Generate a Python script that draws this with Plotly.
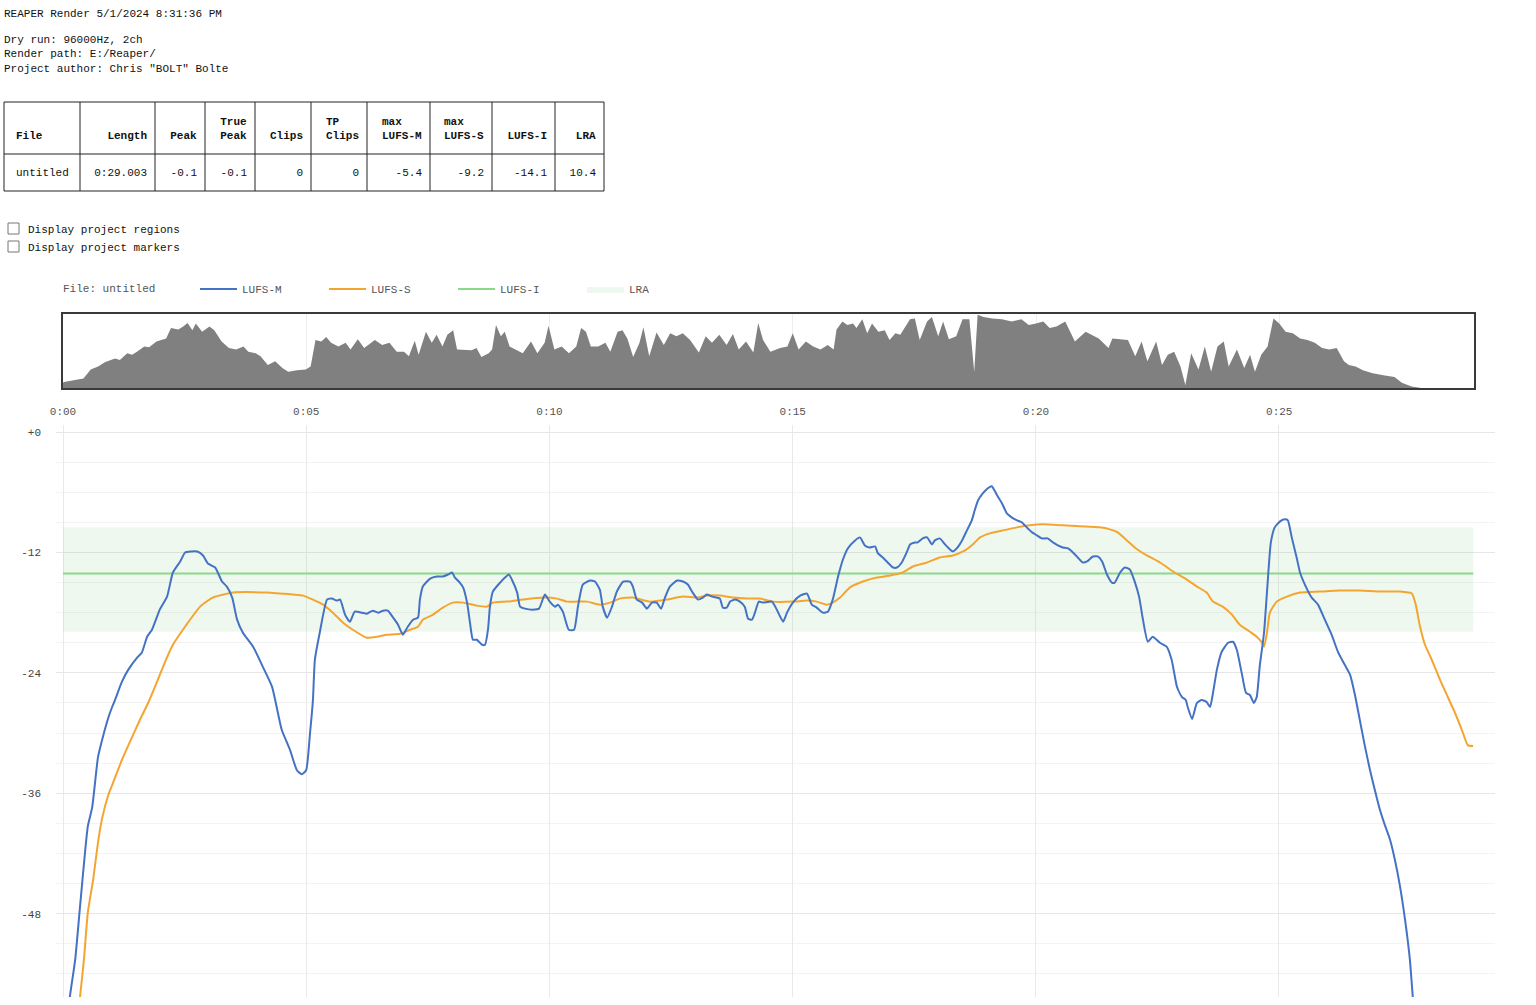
import plotly.graph_objects as go

# ---------------- data ----------------
HEADER_TITLE = "REAPER Render 5/1/2024 8:31:36 PM"
HEADER_LINES = ["Dry run: 96000Hz, 2ch", "Render path: E:/Reaper/", 'Project author: Chris "BOLT" Bolte']

TABLE_COLS = ["File", "Length", "Peak", "True<br>Peak", "Clips", "TP<br>Clips",
              "max<br>LUFS-M", "max<br>LUFS-S", "LUFS-I", "LRA"]
TABLE_ROW = ["untitled", "0:29.003", "-0.1", "-0.1", "0", "0", "-5.4", "-9.2", "-14.1", "10.4"]

CHECKBOXES = ["Display project regions", "Display project markers"]
FILE_LABEL = "File: untitled"

LENGTH_S = 29.003
LUFS_I = -14.1
LRA_LOW = -19.9
LRA_HIGH = -9.5

X_TICKS = [0, 5, 10, 15, 20, 25]
X_TICK_TEXT = ["0:00", "0:05", "0:10", "0:15", "0:20", "0:25"]
Y_TICKS = [0, -12, -24, -36, -48]
Y_TICK_TEXT = ["+0", "-12", "-24", "-36", "-48"]

# waveform envelope (relative height 0..1)
WAVE_T = [0.0, 0.02, 0.42, 0.57, 0.72, 0.87, 1.07, 1.17, 1.32, 1.42, 1.52, 1.67, 1.77, 1.92, 2.02, 2.12,
          2.22, 2.37, 2.47, 2.56, 2.66, 2.73, 2.86, 3.01, 3.11, 3.26, 3.41, 3.56, 3.71, 3.81, 3.96,
          4.06, 4.21, 4.36, 4.51, 4.63, 4.81, 4.99, 5.09, 5.19, 5.31, 5.41, 5.51, 5.66, 5.81, 5.91,
          6.06, 6.19, 6.41, 6.56, 6.71, 6.86, 7.01, 7.11, 7.23, 7.31, 7.46, 7.58, 7.68, 7.80, 7.90,
          8.02, 8.10, 8.25, 8.40, 8.50, 8.60, 8.75, 8.82, 8.90, 9.00, 9.08, 9.18, 9.30, 9.45, 9.62,
          9.75, 9.90, 9.98, 10.10, 10.25, 10.40, 10.55, 10.65, 10.75, 10.85, 11.00, 11.15, 11.25,
          11.40, 11.50, 11.60, 11.72, 11.85, 11.93, 12.05, 12.20, 12.35, 12.48, 12.61, 12.74, 12.89,
          13.07, 13.21, 13.34, 13.49, 13.64, 13.77, 13.89, 14.04, 14.19, 14.29, 14.39, 14.54, 14.74,
          14.89, 15.00, 15.12, 15.27, 15.42, 15.57, 15.72, 15.84, 15.90, 16.02, 16.12, 16.24, 16.31,
          16.43, 16.53, 16.63, 16.76, 16.89, 16.99, 17.11, 17.21, 17.31, 17.41, 17.51, 17.61, 17.76,
          17.86, 17.99, 18.09, 18.21, 18.36, 18.49, 18.63, 18.73, 18.80, 18.92, 19.10, 19.30, 19.50,
          19.70, 19.85, 20.00, 20.15, 20.28, 20.42, 20.60, 20.80, 21.02, 21.29, 21.49, 21.57, 21.89,
          22.04, 22.17, 22.29, 22.47, 22.59, 22.71, 22.84, 22.97, 23.07, 23.19, 23.34, 23.47, 23.60,
          23.73, 23.86, 23.96, 24.13, 24.28, 24.40, 24.50, 24.63, 24.76, 24.88, 25.00, 25.13, 25.28,
          25.43, 25.58, 25.73, 25.88, 26.03, 26.18, 26.33, 26.43, 26.57, 26.72, 26.92, 27.17, 27.37,
          27.52, 27.72, 27.92, 29.00]
WAVE_H = [0.07, 0.08, 0.13, 0.25, 0.29, 0.35, 0.40, 0.38, 0.47, 0.45, 0.49, 0.56, 0.55, 0.63, 0.65, 0.67,
          0.81, 0.79, 0.83, 0.88, 0.78, 0.87, 0.76, 0.83, 0.78, 0.63, 0.54, 0.52, 0.56, 0.49, 0.47,
          0.43, 0.31, 0.36, 0.27, 0.22, 0.24, 0.25, 0.29, 0.65, 0.63, 0.69, 0.61, 0.56, 0.61, 0.52,
          0.66, 0.54, 0.65, 0.58, 0.61, 0.49, 0.49, 0.43, 0.64, 0.45, 0.76, 0.61, 0.72, 0.56, 0.72,
          0.78, 0.52, 0.52, 0.51, 0.54, 0.42, 0.47, 0.52, 0.85, 0.70, 0.76, 0.56, 0.52, 0.47, 0.63,
          0.47, 0.61, 0.84, 0.52, 0.56, 0.47, 0.56, 0.81, 0.76, 0.56, 0.56, 0.61, 0.49,
          0.76, 0.78, 0.67, 0.42, 0.61, 0.82, 0.43, 0.75, 0.58, 0.74, 0.70, 0.74, 0.65,
          0.48, 0.70, 0.61, 0.72, 0.58, 0.73, 0.52, 0.63, 0.48, 0.88, 0.65, 0.49, 0.54,
          0.56, 0.74, 0.52, 0.63, 0.56, 0.52, 0.58, 0.52, 0.79, 0.90, 0.85, 0.87, 0.81,
          0.93, 0.74, 0.87, 0.76, 0.78, 0.65, 0.74, 0.72, 0.83, 0.93, 0.94, 0.65, 0.90,
          0.96, 0.70, 0.90, 0.66, 0.70, 0.93, 0.93, 0.22, 0.99, 0.96, 0.94, 0.93, 0.90,
          0.93, 0.85, 0.87, 0.90, 0.81, 0.83, 0.90, 0.63, 0.76, 0.67, 0.54, 0.67, 0.65,
          0.43, 0.63, 0.36, 0.63, 0.31, 0.45, 0.49, 0.29, 0.04, 0.47, 0.25, 0.56, 0.22,
          0.56, 0.63, 0.29, 0.52, 0.27, 0.45, 0.22, 0.45, 0.56, 0.94, 0.87, 0.76, 0.74,
          0.67, 0.65, 0.61, 0.54, 0.52, 0.54, 0.36, 0.31, 0.29, 0.24, 0.20, 0.17, 0.15,
          0.07, 0.02, 0.00, 0.00]

# momentary loudness (LUFS-M)
M_T = [0.06, 0.14, 0.25, 0.35, 0.51, 0.60, 0.72, 0.82, 0.93, 1.01, 1.07, 1.21, 1.34, 1.52, 1.62, 1.73,
       1.83, 1.99, 2.14, 2.26, 2.41, 2.51, 2.63, 2.76, 2.88, 2.98, 3.13, 3.27, 3.37, 3.48, 3.58,
       3.70, 3.91, 4.11, 4.30, 4.42, 4.50, 4.67, 4.81, 4.91, 5.00, 5.08, 5.14, 5.18, 5.28, 5.43,
       5.53, 5.63, 5.70, 5.80, 5.90, 6.00, 6.15, 6.25, 6.37, 6.48, 6.58, 6.68, 6.79, 6.89, 6.99,
       7.09, 7.20, 7.30, 7.34, 7.40, 7.55, 7.69, 7.81, 7.92, 8.00, 8.06, 8.16, 8.23, 8.31, 8.37,
       8.43, 8.51, 8.62, 8.68, 8.74, 8.78, 8.84, 8.99, 9.09, 9.17, 9.23, 9.34, 9.40, 9.50, 9.66,
       9.79, 9.91, 10.01, 10.12, 10.18, 10.28, 10.40, 10.51, 10.59, 10.69, 10.84, 10.94, 11.04,
       11.10, 11.19, 11.29, 11.39, 11.52, 11.66, 11.72, 11.80, 11.91, 12.01, 12.11, 12.21, 12.30,
       12.38, 12.48, 12.63, 12.75, 12.85, 12.95, 13.06, 13.16, 13.24, 13.35, 13.45, 13.51, 13.57,
       13.65, 13.72, 13.82, 13.92, 14.02, 14.09, 14.17, 14.23, 14.31, 14.39, 14.58, 14.68, 14.81,
       14.89, 15.01, 15.16, 15.30, 15.40, 15.50, 15.63, 15.73, 15.83, 15.94, 16.04, 16.14, 16.29,
       16.39, 16.49, 16.59, 16.70, 16.76, 16.86, 16.96, 17.07, 17.15, 17.25, 17.36, 17.42, 17.52,
       17.58, 17.68, 17.77, 17.87, 17.93, 18.03, 18.14, 18.24, 18.30, 18.38, 18.49, 18.59, 18.69,
       18.75, 18.82, 18.92, 19.02, 19.10, 19.21, 19.31, 19.41, 19.51, 19.62, 19.72, 19.82, 19.93,
       20.03, 20.13, 20.25, 20.36, 20.46, 20.56, 20.67, 20.77, 20.87, 20.97, 21.06, 21.18, 21.28,
       21.37, 21.47, 21.57, 21.63, 21.74, 21.84, 21.94, 22.04, 22.13, 22.21, 22.31, 22.41, 22.56,
       22.70, 22.80, 22.91, 23.01, 23.09, 23.13, 23.22, 23.32, 23.42, 23.52, 23.59, 23.65, 23.73,
       23.83, 23.96, 24.06, 24.14, 24.24, 24.33, 24.41, 24.49, 24.55, 24.61, 24.70, 24.76, 24.84,
       24.92, 25.03, 25.13, 25.19, 25.27, 25.38, 25.44, 25.54, 25.68, 25.81, 25.95, 26.09, 26.22,
       26.36, 26.47, 26.57, 26.67, 26.77, 26.88, 26.98, 27.08, 27.18, 27.29, 27.39, 27.49, 27.60,
       27.70, 27.76, 27.86, 28.00]
M_V = [-60.0, -56.3, -52.6, -47.3, -39.3, -37.4, -32.4, -30.4, -28.5, -27.4, -26.7, -24.9, -23.7, -22.5, -22.0, -20.4,
       -19.7, -17.7, -16.4, -14.0, -12.9, -12.0, -11.9, -11.9, -12.3, -13.1, -13.5, -14.9, -15.4, -16.5, -18.7,
       -20.0, -21.4, -23.4, -25.4, -28.0, -29.7, -31.7, -33.7, -34.1, -33.7, -30.0, -26.7, -22.7, -20.0, -16.7,
       -16.6, -16.8, -16.7, -18.2, -18.9, -17.9, -18.0, -18.1, -17.8, -18.0, -17.8, -17.8, -18.5, -19.2, -20.2,
       -19.4, -18.7, -18.5, -16.7, -15.4, -14.6, -14.4, -14.4, -14.2, -14.0, -14.5, -15.0, -15.5, -17.0, -19.0,
       -20.7, -20.7, -21.2, -21.2, -19.7, -17.4, -15.9, -15.0, -14.5, -14.2, -14.7, -16.0, -17.4, -17.6, -17.7,
       -17.6, -16.2, -16.9, -17.4, -17.2, -17.9, -19.7, -19.7, -17.4, -15.2, -14.8, -14.9, -15.7,
       -17.4, -18.5, -17.4, -15.9, -14.9, -14.9, -15.4, -16.7, -17.0, -17.6, -17.0, -17.0, -17.6,
       -16.5, -15.4, -14.8, -14.9, -15.2, -16.0, -16.7, -16.5, -16.2, -16.4, -16.5, -16.6, -17.5,
       -17.5, -16.9, -16.7, -16.9, -17.4, -18.6, -18.7, -18.0, -16.9, -17.0, -16.9, -17.7, -18.9,
       -18.0, -17.0, -16.3, -16.1, -17.2, -17.5, -18.0, -17.9, -16.7, -14.4, -12.7, -11.6, -10.8,
       -10.5, -11.3, -11.5, -11.4, -12.1, -12.5, -13.0, -13.5, -13.5, -13.0, -11.9, -11.2, -11.0,
       -11.0, -10.6, -10.5, -11.2, -10.8, -10.6, -11.2, -11.7, -11.9, -11.6, -10.8, -9.8, -8.8,
       -7.8, -6.8, -6.1, -5.6, -5.4, -6.3, -7.1, -8.1, -8.5, -8.8, -9.0, -9.5, -10.0,
       -10.3, -10.6, -10.6, -11.0, -11.3, -11.5, -11.6, -12.0, -12.5, -13.0, -12.9, -12.4, -12.4,
       -12.9, -14.2, -15.0, -15.0, -14.0, -13.5, -13.7, -14.9, -16.4, -18.7, -20.9, -20.4, -21.0,
       -21.4, -22.7, -25.4, -26.4, -26.7, -27.4, -28.6, -27.0, -26.7, -26.9, -27.4, -26.0, -23.7,
       -21.9, -21.0, -20.9, -21.7, -24.0, -26.0, -26.2, -27.0, -26.4, -23.4, -20.0, -16.0, -11.0,
       -9.5, -8.9, -8.7, -8.8, -10.5, -12.7, -14.0, -15.2, -16.5, -17.2, -18.7, -20.2, -21.9,
       -23.2, -24.2, -26.2, -28.7, -31.2, -33.7, -35.7, -37.6, -39.1, -40.6, -42.6, -45.1, -48.6,
       -52.6, -56.3, -60.6, -66.0]

# short-term loudness (LUFS-S)
S_T = [0.25, 0.35, 0.43, 0.51, 0.62, 0.72, 0.80, 0.93, 1.01, 1.21, 1.42, 1.58, 1.75, 1.95, 2.10, 2.26,
       2.51, 2.82, 3.08, 3.50, 4.19, 4.73, 4.94, 5.14, 5.35, 5.55, 5.76, 5.96, 6.25, 6.46, 6.66,
       6.93, 7.14, 7.30, 7.40, 7.61, 7.81, 8.02, 8.23, 8.51, 8.72, 8.84, 9.13, 9.46, 9.87, 10.16,
       10.36, 10.57, 10.78, 11.04, 11.25, 11.45, 11.72, 12.07, 12.42, 12.75, 13.04, 13.24, 13.51,
       13.78, 14.07, 14.33, 14.60, 15.01, 15.30, 15.50, 15.71, 15.83, 15.98, 16.18, 16.45, 16.74,
       17.01, 17.27, 17.48, 17.77, 18.03, 18.30, 18.51, 18.71, 18.86, 19.06, 19.33, 19.62, 19.88,
       20.15, 20.56, 20.91, 21.32, 21.53, 21.69, 21.88, 22.04, 22.29, 22.56, 22.83, 23.11, 23.32,
       23.52, 23.65, 23.85, 24.04, 24.20, 24.41, 24.55, 24.66, 24.70, 24.76, 24.82, 24.96, 25.17,
       25.44, 25.85, 26.26, 26.67, 27.08, 27.49, 27.74, 27.82, 27.90, 28.01, 28.15, 28.32, 28.46,
       28.62, 28.77, 28.89, 29.00]
S_V = [-62.0, -56.3, -52.6, -47.9, -44.6, -40.9, -38.6, -36.2, -35.2, -32.7, -30.4, -28.7, -27.0, -24.7, -22.9, -21.2,
       -19.4, -17.4, -16.5, -16.0, -16.0, -16.2, -16.3, -16.7, -17.2, -18.0, -19.0, -19.7, -20.5, -20.4, -20.2,
       -20.1, -19.7, -19.4, -18.7, -18.2, -17.5, -17.0, -17.0, -17.3, -17.4, -17.0, -16.9, -16.7, -16.5, -16.6,
       -16.9, -16.9, -16.9, -17.2, -17.0, -16.6, -16.5, -16.9, -16.7, -16.4, -16.5, -16.3, -16.3,
       -16.5, -16.6, -16.6, -16.9, -16.9, -16.8, -16.9, -17.2, -17.0, -16.5, -15.5, -14.9, -14.5,
       -14.3, -14.0, -13.4, -13.0, -12.5, -12.3, -11.9, -11.2, -10.5, -10.1, -9.8, -9.5, -9.3,
       -9.2, -9.3, -9.4, -9.5, -9.7, -10.0, -10.8, -11.5, -12.3, -13.0, -13.9, -14.7, -15.4,
       -16.0, -16.9, -17.4, -18.2, -19.2, -19.9, -20.4, -21.0, -21.4, -20.0, -18.0, -16.9, -16.4,
       -16.0, -15.9, -15.8, -15.8, -15.9, -15.9, -16.1, -17.2, -19.2, -21.2, -22.7, -24.7, -26.2,
       -27.9, -29.7, -31.2, -31.3]

# ---------------- styling ----------------
W, H = 1536, 1005
MONO = "Liberation Mono, DejaVu Sans Mono, monospace"
BLUE = "#4472c4"
ORANGE = "#f4a52f"
GREEN = "#8bd88b"
LRA_FILL = "rgba(150, 210, 150, 0.15)"
GRAY_TXT = "#555555"
NBSP = "\u00a0"
TABLE_COL_W = [76, 75, 50, 50, 56, 56, 63, 62, 63, 49]
TABLE_LEFT, TABLE_TOP, TABLE_MID, TABLE_BOTTOM = 4, 102, 154, 191


def px_x(p):
    return p / W


def px_y(p):
    return 1 - p / H


def header_label(c):
    lines = c.split("<br>")
    if len(lines) == 1:
        lines = [NBSP] + lines
    return "<br>".join("<b>" + ln + "</b>" for ln in lines)


fig = go.Figure()

# waveform overview
fig.add_trace(go.Scatter(x=WAVE_T, y=WAVE_H, xaxis="x", yaxis="y", mode="lines",
                         fill="tozeroy", fillcolor="#808080", line=dict(width=0, color="#808080"),
                         showlegend=False, hoverinfo="skip"))

# LRA band
fig.add_trace(go.Scatter(x=[0, LENGTH_S, LENGTH_S, 0, 0], y=[LRA_LOW, LRA_LOW, LRA_HIGH, LRA_HIGH, LRA_LOW],
                         xaxis="x2", yaxis="y2", mode="lines", fill="toself", fillcolor=LRA_FILL,
                         line=dict(width=0, color=LRA_FILL), name="LRA", legendrank=4))
# integrated
fig.add_trace(go.Scatter(x=[0, LENGTH_S], y=[LUFS_I, LUFS_I], xaxis="x2", yaxis="y2", mode="lines",
                         line=dict(color=GREEN, width=2), name="LUFS-I", legendrank=3))
# short-term
fig.add_trace(go.Scatter(x=S_T, y=S_V, xaxis="x2", yaxis="y2", mode="lines",
                         line=dict(color=ORANGE, width=2, shape="spline", smoothing=0.5),
                         name="LUFS-S", legendrank=2))
# momentary
fig.add_trace(go.Scatter(x=M_T, y=M_V, xaxis="x2", yaxis="y2", mode="lines",
                         line=dict(color=BLUE, width=2, shape="spline", smoothing=0.5),
                         name="LUFS-M", legendrank=1))

# table text (grid drawn as shapes so the text can sit lower in the cells)
text_widths = [TABLE_COL_W[0] - 4] + TABLE_COL_W[1:]
table_right = TABLE_LEFT + sum(TABLE_COL_W)
fig.add_trace(go.Table(
    domain=dict(x=[px_x(TABLE_LEFT + 4), px_x(table_right)], y=[px_y(TABLE_BOTTOM + 6), px_y(TABLE_TOP + 6)]),
    columnwidth=text_widths,
    header=dict(values=[header_label(c) for c in TABLE_COLS],
                align=["left"] + ["right"] * 9, height=TABLE_MID - TABLE_TOP,
                line=dict(color="rgba(0,0,0,0)", width=0), fill=dict(color="rgba(0,0,0,0)"),
                font=dict(family=MONO, size=11, color="#111111")),
    cells=dict(values=[[v] for v in TABLE_ROW], align=["left"] + ["right"] * 9,
               height=TABLE_BOTTOM - TABLE_MID,
               line=dict(color="rgba(0,0,0,0)", width=0), fill=dict(color="rgba(0,0,0,0)"),
               font=dict(family=MONO, size=11, color="#111111")),
))

shapes = []
for yy in (TABLE_TOP, TABLE_MID, TABLE_BOTTOM):
    shapes.append(dict(type="line", xref="paper", yref="paper", x0=px_x(TABLE_LEFT), x1=px_x(table_right),
                       y0=px_y(yy), y1=px_y(yy), line=dict(color="#222222", width=1)))
xx = TABLE_LEFT
for wcol in [0] + TABLE_COL_W:
    xx += wcol
    shapes.append(dict(type="line", xref="paper", yref="paper", x0=px_x(xx), x1=px_x(xx),
                       y0=px_y(TABLE_TOP), y1=px_y(TABLE_BOTTOM), line=dict(color="#222222", width=1)))

annotations = [
    dict(text=HEADER_TITLE, x=px_x(2), y=px_y(14), xanchor="left", yanchor="middle"),
    dict(text="<br>".join(HEADER_LINES), x=px_x(2), y=px_y(54), xanchor="left", yanchor="middle"),
    dict(text=FILE_LABEL, x=px_x(61), y=px_y(289), xanchor="left", yanchor="middle",
         font=dict(family=MONO, size=11, color=GRAY_TXT)),
]
for i, label in enumerate(CHECKBOXES):
    cy = 229 + 18 * i
    annotations.append(dict(text=label, x=px_x(26), y=px_y(cy + 1), xanchor="left", yanchor="middle"))
    shapes.append(dict(type="rect", xref="paper", yref="paper",
                       x0=px_x(8), x1=px_x(19), y0=px_y(cy - 6), y1=px_y(cy + 5),
                       line=dict(color="#767676", width=1), fillcolor="white"))
for a in annotations:
    a.setdefault("font", dict(family=MONO, size=11, color="#111111"))
    a.update(xref="paper", yref="paper", showarrow=False, align="left")

fig.update_layout(
    width=W, height=H,
    margin=dict(l=0, r=0, t=0, b=0, pad=0, autoexpand=False),
    paper_bgcolor="white", plot_bgcolor="white",
    font=dict(family=MONO, size=11, color=GRAY_TXT),
    showlegend=True,
    legend=dict(orientation="h", x=px_x(195), y=px_y(289), xanchor="left", yanchor="middle",
                itemwidth=37, entrywidth=77, entrywidthmode="pixels",
                itemclick=False, itemdoubleclick=False,
                font=dict(family=MONO, size=11, color=GRAY_TXT), bgcolor="rgba(0,0,0,0)"),
    annotations=annotations,
    shapes=shapes,
    xaxis=dict(domain=[px_x(63), px_x(1474)], anchor="y", range=[0, LENGTH_S], automargin=False,
               tickvals=X_TICKS, ticktext=X_TICK_TEXT, showgrid=True, gridcolor="#eeeeee",
               zeroline=False, showline=True, linecolor="#3a3a3a", linewidth=1.5, mirror=True,
               ticks="", ticklabelstandoff=12, tickfont=dict(family=MONO, size=11, color=GRAY_TXT),
               fixedrange=True),
    yaxis=dict(domain=[px_y(388), px_y(314)], anchor="x", range=[0, 1.0], showgrid=False, automargin=False,
               zeroline=False, showticklabels=False, showline=True, linecolor="#3a3a3a",
               linewidth=1.5, mirror=True, ticks="", fixedrange=True),
    xaxis2=dict(domain=[px_x(56), px_x(1495)], anchor="y2", range=[-0.144, 29.45], automargin=False,
                tickvals=X_TICKS, showticklabels=False, showgrid=True, gridcolor="#e9e9e9",
                zeroline=False, showline=False, ticks="", fixedrange=True),
    yaxis2=dict(domain=[px_y(997), px_y(425)], anchor="x2", range=[-56.3, 0.7], automargin=False,
                tickvals=Y_TICKS, ticktext=Y_TICK_TEXT, showgrid=True, gridcolor="#e6e6e6",
                minor=dict(tickvals=[-3, -6, -9, -15, -18, -21, -27, -30, -33, -39, -42, -45, -51, -54],
                           showgrid=True, gridcolor="#f3f3f3", ticks=""),
                zeroline=False, showline=False, ticks="", ticklabelstandoff=14,
                tickfont=dict(family=MONO, size=11, color="#444444"), fixedrange=True),
)

# the page's default 8px body margin would shift the whole figure; remove it
fig.write_html("out.html", config={"displayModeBar": False},
               post_script="document.body.style.margin='0px';document.body.style.overflow='hidden';")
